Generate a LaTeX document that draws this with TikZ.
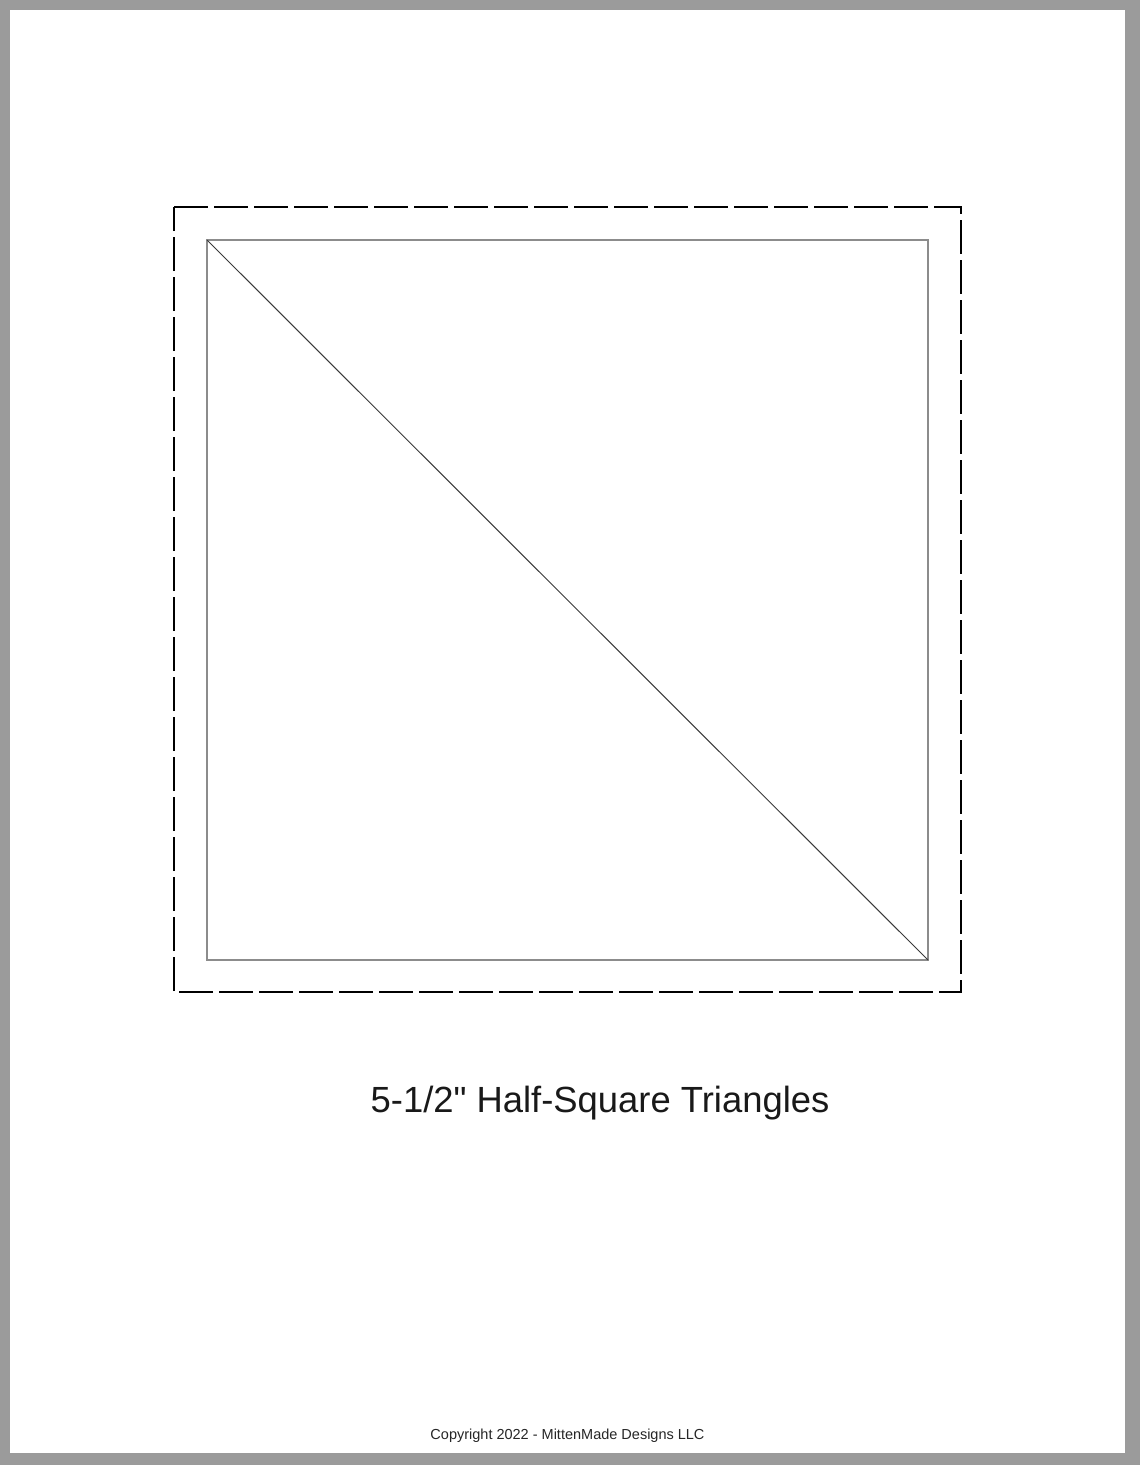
\documentclass[tikz,border=0pt]{standalone}
\usepackage{fontspec}
\setmainfont{Liberation Sans}
\definecolor{framegray}{HTML}{9B9B9B}
\definecolor{sqgray}{HTML}{8C8C8C}
\definecolor{diaggray}{HTML}{3A3A3A}
\begin{document}
\begin{tikzpicture}[x=1pt,y=-1pt,
  seamline/.style={draw=black,line width=1.8pt,dash pattern=on 34pt off 6pt},
  cutline/.style={draw=sqgray,line width=1.4pt},
  diagline/.style={draw=diaggray,line width=1pt},
  titletext/.style={inner sep=0pt,anchor=base,font=\fontsize{36.4}{41}\selectfont,text=black!90},
  copytext/.style={inner sep=0pt,anchor=base,font=\fontsize{14.5}{17}\selectfont,text=black!85}]
  % page frame
  \fill[framegray] (0,0) rectangle (1140,1465);
  \fill[white] (10,10) rectangle (1125,1453);
  \useasboundingbox (0,0) rectangle (1140,1465);
  % seam allowance (dashed)
  \draw[seamline] (174,207) -- (961,207) -- (961,992) -- (174,992) -- cycle;
  % finished square
  \coordinate (tl) at (207,240);
  \coordinate (br) at (928,960);
  \draw[cutline] (tl) rectangle (br);
  \draw[diagline] (tl) -- (br);
  % labels
  \node[titletext] (title) at (600,1112) {5-1/2\textquotedbl{} Half-Square Triangles};
  \node[copytext] (copy) at (567.5,1439) {Copyright 2022 - MittenMade Designs LLC};
\end{tikzpicture}
\end{document}
